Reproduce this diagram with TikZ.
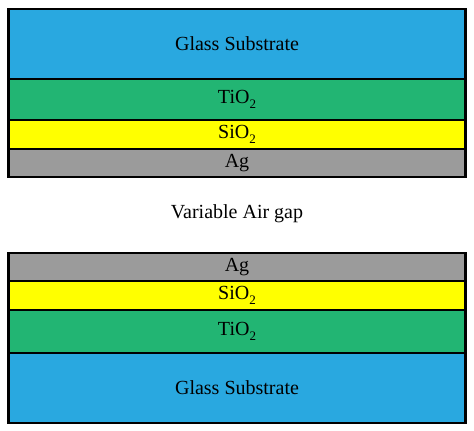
\documentclass[tikz,border=0pt]{standalone}
\usepackage{fontspec}
\setmainfont{Liberation Serif}
\usetikzlibrary{positioning}
\definecolor{cGlass}{HTML}{29A8E0}
\definecolor{cTiO}{HTML}{22B573}
\definecolor{cSiO}{HTML}{FFFF00}
\definecolor{cAg}{HTML}{9B9B9B}
\newcommand{\lowsub}[1]{\raisebox{-0.55ex}{\fontsize{13bp}{14bp}\selectfont #1}}

\begin{document}
\begin{tikzpicture}[
  x=1bp,y=-1bp,
  font=\fontsize{20bp}{22bp}\selectfont,
  node distance=0pt,
  layer/.style={draw=black,line width=2.2bp,minimum width=457bp,inner sep=0pt,
                outer sep=0pt,anchor=north},
  glass/.style={layer,fill=cGlass,minimum height=70bp},
  tio/.style={layer,fill=cTiO,minimum height=41bp},
  sio/.style={layer,fill=cSiO,minimum height=29bp},
  ag/.style={layer,fill=cAg,minimum height=28bp}
]
\useasboundingbox (0,0) rectangle (474,430);

% upper stack
\node[glass] (g1) at (237,9) {Glass Substrate};
\node[tio,below=of g1] (t1) {TiO\lowsub{2}};
\node[sio,below=of t1] (s1) {SiO\lowsub{2}};
\node[ag,below=of s1] (a1) {Ag};

\node (gap) at (237,214) {Variable Air gap};

% lower stack
\node[ag] (a2) at (237,253) {Ag};
\node[sio,below=of a2] (s2) {SiO\lowsub{2}};
\node[tio,below=of s2,minimum height=43bp] (t2) {TiO\lowsub{2}};
\node[glass,below=of t2] (g2) {Glass Substrate};

\end{tikzpicture}
\end{document}
